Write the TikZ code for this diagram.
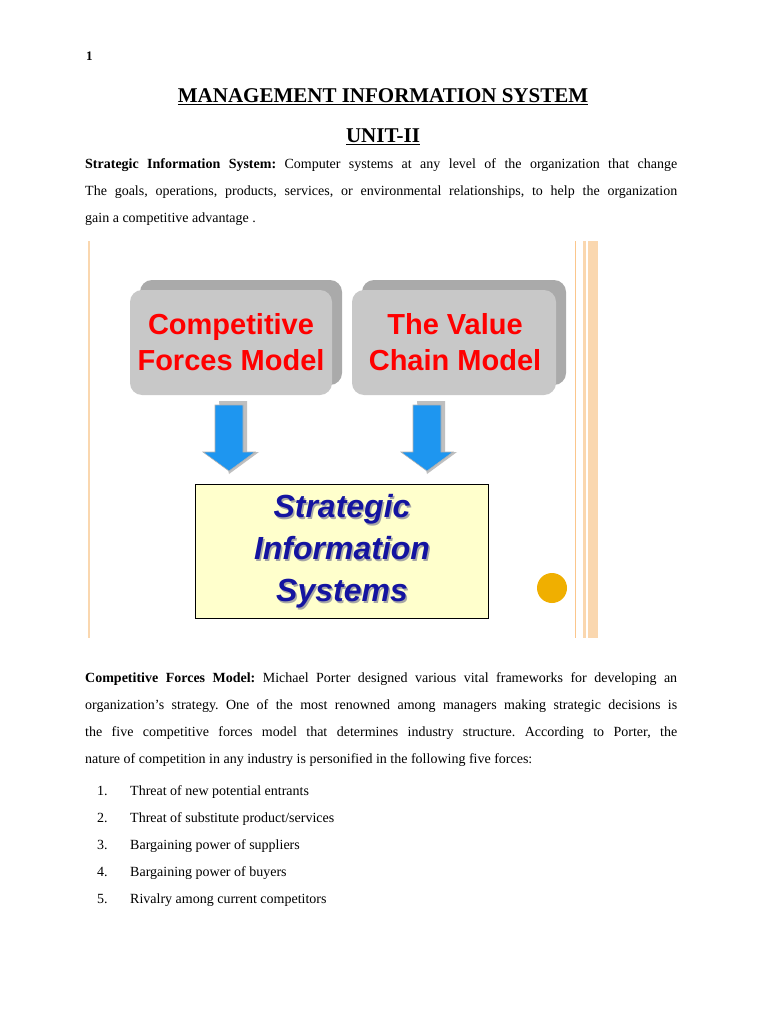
\documentclass[tikz,border=0pt]{standalone}
\usepackage{fontspec}
\setmainfont{Liberation Serif}
\newfontfamily\arialf{Liberation Sans}
\definecolor{boxgray}{RGB}{200,200,200}
\definecolor{boxtop}{RGB}{170,170,170}
\definecolor{arrblue}{RGB}{30,150,240}
\definecolor{sisfill}{RGB}{255,255,204}
\definecolor{sisblue}{RGB}{20,20,160}
\definecolor{orangeline}{RGB}{250,215,175}
\definecolor{dotorange}{RGB}{240,175,0}
\begin{document}
\frenchspacing
\begin{tikzpicture}[x=1pt,y=-1pt,
  body/.style={anchor=north west,inner sep=0,text width=592pt,align=justify,font=\fontsize{14}{27}\selectfont},
  item/.style={anchor=base west,inner sep=0,font=\fontsize{14}{17}\selectfont},
  model/.style={rounded corners=12pt,fill=boxgray,draw=none},
  modeltxt/.style={font=\arialf\bfseries\fontsize{29}{36}\selectfont,text=red,align=center},
  sisfont/.style={font=\arialf\bfseries\itshape\fontsize{32}{42}\selectfont,align=center},
  bigarrow/.style={fill=arrblue,draw=gray!60,line width=0.6pt}]
\useasboundingbox (0,0) rectangle (768,1024);
\fill[white] (0,0) rectangle (768,1024);
\node[item,font=\bfseries\fontsize{13}{15}\selectfont] (pg) at (86,61) {1};
\node[anchor=base,inner sep=0,font=\bfseries\fontsize{21}{25}\selectfont] (t1) at (383,103) {\underline{MANAGEMENT INFORMATION SYSTEM}};
\node[anchor=base,inner sep=0,font=\bfseries\fontsize{21}{25}\selectfont] (t2) at (383,143) {\underline{UNIT-II}};
\node[body] (p1) at (85,158) {\hyphenpenalty=10000\relax\textbf{Strategic Information System:} Computer systems at any level of the organization that change\linebreak The goals, operations, products, services, or environmental relationships, to help the organization\linebreak gain a competitive advantage .};
% frame lines
\draw[orangeline,line width=2pt] (89,241) -- (89,638);
\fill[orangeline] (583,241) rectangle (598,638);
\draw[orangeline!80!orange,line width=1pt] (575,241) -- (575,638);
\draw[white,line width=1.5pt] (587,241) -- (587,638);
% model boxes
\fill[boxtop,rounded corners=12pt] (140,280) rectangle (342,385);
\fill[model] (130,290) rectangle (332,395);
\node[modeltxt] (cf) at (231,342) {Competitive\\Forces Model};
\fill[boxtop,rounded corners=12pt] (362,280) rectangle (566,385);
\fill[model] (352,290) rectangle (556,395);
\node[modeltxt] (vc) at (455,342) {The Value\\Chain Model};
% arrows
\fill[gray!50] (219,401) -- (247,401) -- (247,452) -- (259,452) -- (229,474) -- (223,445) -- cycle;
\draw[bigarrow] (215,405) -- (243,405) -- (243,452) -- (255,452) -- (229,471) -- (203,452) -- (215,452) -- cycle;
\fill[gray!50] (417,401) -- (445,401) -- (445,452) -- (457,452) -- (427,474) -- (421,445) -- cycle;
\draw[bigarrow] (413,405) -- (441,405) -- (441,452) -- (453,452) -- (427,471) -- (401,452) -- (413,452) -- cycle;
% SIS box
\node[draw=black,line width=1pt,fill=sisfill,minimum width=293pt,minimum height=134pt,inner sep=0,anchor=north west] (sis) at (195,484) {};
\node[sisfont,text=gray!70] at ([xshift=1.5pt,yshift=-1.5pt]sis.center) {Strategic\\Information\\Systems};
\node[sisfont,text=sisblue] (sist) at (sis.center) {Strategic\\Information\\Systems};
\fill[dotorange] (552,588) circle (15);
% paragraph 2
\node[body] (p2) at (85,672) {\hyphenpenalty=10000\relax\textbf{Competitive Forces Model:} Michael Porter designed various vital frameworks for developing an\linebreak organization’s strategy. One of the most renowned among managers making strategic decisions is\linebreak the five competitive forces model that determines industry structure. According to Porter, the\linebreak nature of competition in any industry is personified in the following five forces:};
\foreach \n/\t [count=\i] in {1/Threat of new potential entrants,2/{Threat of substitute product/services},3/Bargaining power of suppliers,4/Bargaining power of buyers,5/Rivalry among current competitors}{
  \node[item] (n\i) at (97,{795+27*(\i-1)}) {\n.};
  \node[item] (l\i) at (130,{795+27*(\i-1)}) {\t};
}
\end{tikzpicture}
\end{document}
